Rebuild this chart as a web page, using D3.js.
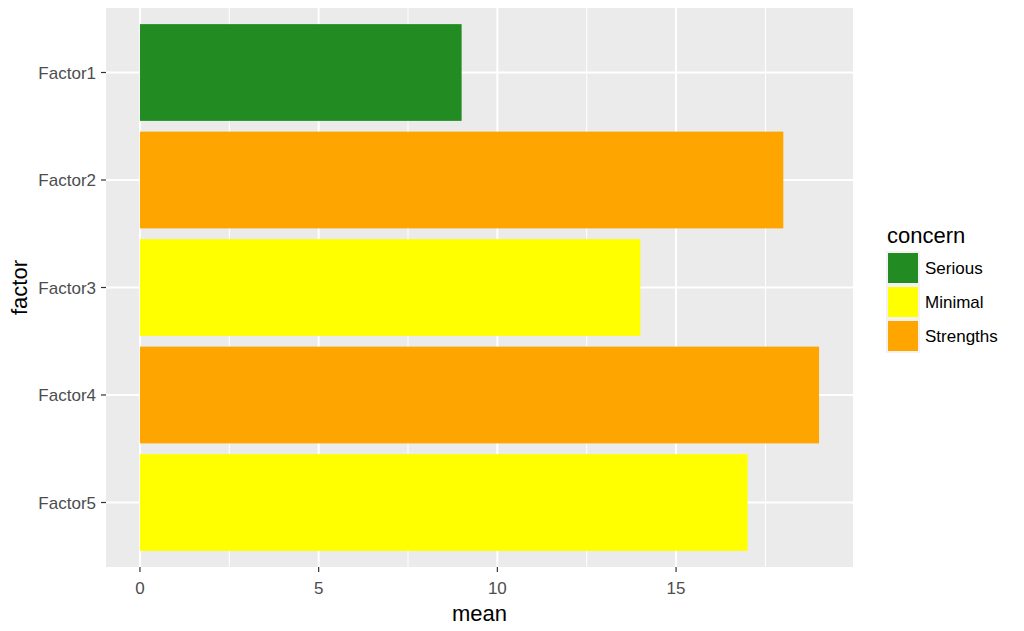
<!DOCTYPE html>
<html><head><meta charset="utf-8">
<script src="https://cdn.jsdelivr.net/npm/d3@7"></script>
<style>body{margin:0;background:#fff;} text{font-family:"Liberation Sans",Arial,sans-serif;}</style>
</head><body>
<svg id="chart" width="1024" height="631"></svg>
<script>
const categories = ["Factor1","Factor2","Factor3","Factor4","Factor5"];
const meanValues = [9, 18, 14, 19, 17];
const concernOfFactor = ["Serious","Strengths","Minimal","Strengths","Minimal"];
const concernLevels = ["Serious","Minimal","Strengths"];
const concernColors = ["#228B22","#FFFF00","#FFA500"];
const xTicks = [0,5,10,15];

const svg = d3.select("#chart");
const P = {left:106, right:853, top:8, bottom:567};
const x = d3.scaleLinear().domain([-0.95, 19.95]).range([P.left, P.right]);
const yPos = d3.scaleLinear().domain([0.4, 5.6]).range([P.top, P.bottom]);
const color = d3.scaleOrdinal().domain(concernLevels).range(concernColors);
const data = categories.map((c,i)=>({cat:c, idx:i+1, v:meanValues[i], concern:concernOfFactor[i]}));

svg.append("rect").attr("x",P.left).attr("y",P.top).attr("width",P.right-P.left).attr("height",P.bottom-P.top).attr("fill","#EBEBEB");
const g = svg.append("g");
const minor = [2.5, 7.5, 12.5, 17.5];
g.selectAll(".minx").data(minor).join("line").attr("x1",d=>x(d)).attr("x2",d=>x(d)).attr("y1",P.top).attr("y2",P.bottom).attr("stroke","#fff").attr("stroke-width",1);
g.selectAll(".majx").data(xTicks).join("line").attr("x1",d=>x(d)).attr("x2",d=>x(d)).attr("y1",P.top).attr("y2",P.bottom).attr("stroke","#fff").attr("stroke-width",2);
g.selectAll(".majy").data(data).join("line").attr("x1",P.left).attr("x2",P.right).attr("y1",d=>yPos(d.idx)).attr("y2",d=>yPos(d.idx)).attr("stroke","#fff").attr("stroke-width",2);
g.selectAll(".bar").data(data).join("rect")
 .attr("x",x(0)).attr("y",d=>yPos(d.idx-0.45)).attr("width",d=>x(d.v)-x(0)).attr("height",d=>yPos(d.idx+0.45)-yPos(d.idx-0.45))
 .attr("fill",d=>color(d.concern));

const xa = svg.append("g");
xa.selectAll("line").data(xTicks).join("line").attr("x1",d=>x(d)).attr("x2",d=>x(d)).attr("y1",P.bottom).attr("y2",P.bottom+5).attr("stroke","#333").attr("stroke-width",1.2);
xa.selectAll("text").data(xTicks).join("text").attr("x",d=>x(d)).attr("y",P.bottom+27).attr("text-anchor","middle").attr("fill","#4D4D4D").style("font-size","17px").text(d=>d);
const ya = svg.append("g");
ya.selectAll("line").data(data).join("line").attr("x1",P.left-5).attr("x2",P.left).attr("y1",d=>yPos(d.idx)).attr("y2",d=>yPos(d.idx)).attr("stroke","#333").attr("stroke-width",1.2);
ya.selectAll("text").data(data).join("text").attr("x",P.left-10).attr("y",d=>yPos(d.idx)).attr("dy","0.36em").attr("text-anchor","end").attr("fill","#4D4D4D").style("font-size","17px").text(d=>d.cat);

svg.append("text").attr("x",(P.left+P.right)/2).attr("y",621).attr("text-anchor","middle").attr("fill","#000").style("font-size","22px").text("mean");
svg.append("text").attr("transform",`translate(27,${(P.top+P.bottom)/2}) rotate(-90)`).attr("text-anchor","middle").attr("fill","#000").style("font-size","22px").text("factor");

const L = svg.append("g");
L.append("text").attr("x",887).attr("y",243).attr("fill","#000").style("font-size","22px").text("concern");
const items = L.selectAll(".it").data(concernLevels).join("g").attr("transform",(d,i)=>`translate(886,${251+i*34})`);
items.append("rect").attr("x",0).attr("y",0).attr("width",34).attr("height",34).attr("fill","#F2F2F2");
items.append("rect").attr("x",2).attr("y",2).attr("width",30).attr("height",30).attr("fill",d=>color(d));
items.append("text").attr("x",39).attr("y",17).attr("dy","0.36em").attr("fill","#000").style("font-size","17px").text(d=>d);
</script>
</body></html>
